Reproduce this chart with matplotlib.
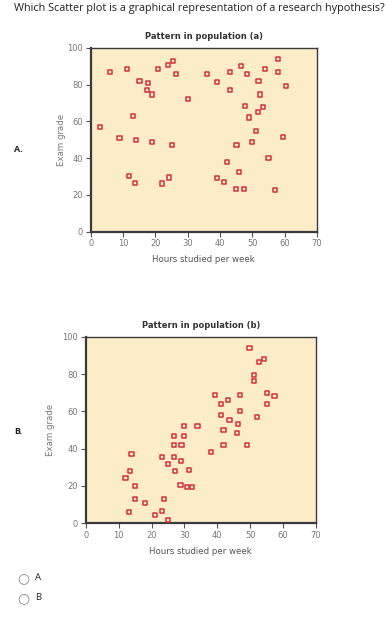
import matplotlib.pyplot as plt

# population (a): no pattern
hours_a = [6.0, 11.2, 15.1, 17.7, 17.5, 18.9, 20.7, 23.9, 25.5, 26.5, 13.2, 3.0, 8.9, 14.0,
           19.0, 25.2, 30.1, 35.9, 39.1, 43.0, 43.0, 46.6, 48.4, 51.9, 52.3, 54.0, 57.9, 57.9,
           60.3, 47.8, 49.0, 51.8, 53.3, 51.2, 49.9, 59.4, 45.1, 55.0, 42.1,
           11.9, 13.6, 22.0, 24.1, 39.1, 41.2, 45.9, 44.9, 47.5, 57.1]
grade_a = [87.0, 88.2, 82.1, 80.8, 76.8, 74.6, 88.4, 90.4, 92.6, 85.5, 63.0, 56.9, 50.7, 49.8,
           48.9, 46.9, 71.9, 85.9, 81.2, 86.8, 77.2, 90.0, 85.5, 81.9, 74.6, 88.2, 94.0, 87.0,
           79.0, 68.5, 62.1, 65.0, 67.6, 54.9, 48.7, 51.4, 46.9, 40.0, 38.0,
           30.4, 26.5, 26.2, 29.5, 29.3, 26.9, 32.4, 23.3, 23.3, 22.7]

# population (b): positive relationship
hours_b = [49.8, 52.8, 54.3, 51.1, 51.1, 39.2, 46.9, 55.0, 57.4, 41.1, 43.3, 55.0, 47.0, 41.1,
           43.7, 52.1, 46.4, 41.9, 46.0, 29.9, 34.0, 26.8, 29.9,
           26.9, 29.1, 41.9, 49.1, 38.1, 13.9, 23.2, 26.9, 25.1, 29.0, 13.5, 27.2, 31.5, 12.1,
           15.1, 28.8, 30.7, 32.3, 15.1, 23.9, 18.1, 13.1, 21.1, 23.3, 25.1]
grade_b = [94.1, 86.3, 88.0, 79.3, 76.1, 68.8, 68.8, 69.8, 68.2, 63.8, 65.9, 63.8, 60.0, 57.9,
           55.5, 57.1, 53.4, 50.2, 48.2, 52.1, 52.0, 46.6, 47.0,
           42.1, 42.1, 42.1, 42.1, 38.2, 37.1, 35.4, 35.5, 31.6, 33.2, 27.9, 28.0, 28.6, 24.1,
           20.2, 20.5, 19.3, 19.3, 13.2, 13.2, 11.1, 6.1, 4.6, 6.8, 1.8]

xticks = [0, 10, 20, 30, 40, 50, 60, 70]
yticks = [0, 20, 40, 60, 80, 100]

fig = plt.figure(figsize=(3.88, 6.17), dpi=100)
fig.patch.set_facecolor('white')

fig.text(14/388, 1-9/617, "Which Scatter plot is a graphical representation of a research hypothesis?",
         fontsize=7.8, family='Open Sans', color='#222222', va='center', ha='left')


def scatter_panel(rect, xs, ys, title, ypad):
    ax = fig.add_axes(rect)
    ax.set_facecolor('#fdecc8')
    ax.scatter(xs, ys, marker='s', s=9, facecolors='none', edgecolors='#d2313d', linewidths=1.1,
               zorder=3)
    ax.set_xlim(0, 70)
    ax.set_ylim(0, 100)
    ax.set_xticks(xticks)
    ax.set_yticks(yticks)
    for sp in ax.spines.values():
        sp.set_color('#3a3a3a')
        sp.set_linewidth(1.0)
    ax.spines['left'].set_linewidth(1.6)
    ax.spines['bottom'].set_linewidth(1.6)
    ax.tick_params(direction='out', length=3.5, width=0.8, color='#555555',
                   labelsize=6, labelcolor='#777777', pad=2)
    ax.set_title(title, fontsize=6.0, fontweight='bold', color='#333333', pad=6)
    ax.set_xlabel('Hours studied per week', fontsize=6.2, color='#555555', labelpad=5)
    ax.set_ylabel('Exam grade', fontsize=6.2, color='#777777', labelpad=ypad)
    return ax


scatter_panel([90.7/388, 1-231.7/617, 226.3/388, 184/617], hours_a, grade_a,
              'Pattern in population (a)', 1)
scatter_panel([85.7/388, 1-523.3/617, 230.3/388, 186.6/617], hours_b, grade_b,
              'Pattern in population (b)', 5)

fig.text(14/388, 1-150/617, 'A.', fontsize=6.5, fontweight='bold', family='Open Sans',
         color='#222222', va='center')
fig.text(14/388, 1-432/617, 'B.', fontsize=6.5, fontweight='bold', family='Open Sans',
         color='#222222', va='center')

for yy, lab in [(578, 'A'), (598, 'B')]:
    fig.text(23/388, 1-yy/617, '\u25cb', fontsize=10, color='#888888', va='center', ha='center',
             family='DejaVu Sans')
    fig.text(35/388, 1-yy/617, lab, fontsize=6.8, color='#222222', va='center', family='Open Sans')

fig.savefig('out.png', dpi=100)
